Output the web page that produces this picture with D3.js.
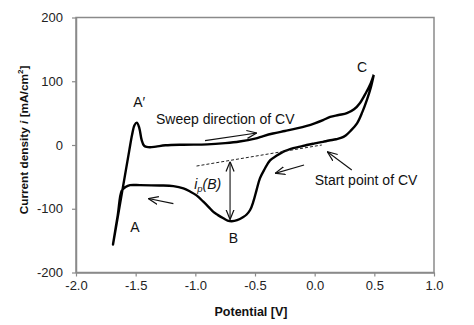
<!DOCTYPE html>
<html><head><meta charset="utf-8">
<script src="https://cdn.jsdelivr.net/npm/d3@7"></script>
<style>
html,body{margin:0;padding:0;background:#fff;}
svg{display:block;font-family:"Liberation Sans",Arial,sans-serif;}
</style></head>
<body>
<script>
// ---- data ----
const xTicks = [-2.0, -1.5, -1.0, -0.5, 0.0, 0.5, 1.0];
const yTicks = [-200, -100, 0, 100, 200];
// cathodic sweep: from C back through B and A to the vertex
const sweepNegative = [
  [0.495,110],[0.47,90],[0.44,72],[0.40,52],[0.355,34],[0.30,22],[0.26,15],[0.22,11],[0.18,9],[0.12,7],
  [0.07,5],[0.0,2.5],[-0.066,0],[-0.122,-2.6],[-0.2,-6],[-0.262,-10.5],[-0.32,-17],[-0.374,-24],[-0.42,-38],
  [-0.458,-52],[-0.486,-70],[-0.514,-89],[-0.541,-102],[-0.57,-109],[-0.598,-113],[-0.65,-118],[-0.695,-119.5],
  [-0.73,-118.5],[-0.765,-115],[-0.81,-110],[-0.849,-105],[-0.89,-97],[-0.933,-89],[-0.99,-79],[-1.044,-73],
  [-1.1,-68],[-1.184,-64.5],[-1.3,-63.5],[-1.464,-63],[-1.547,-63],[-1.585,-66],[-1.617,-72],[-1.65,-110],[-1.69,-156]
];
// anodic sweep: from the vertex up through A' to C
const sweepPositive = [
  [-1.69,-156],[-1.64,-102],[-1.59,-48],[-1.553,-8],[-1.53,16],[-1.51,31],[-1.49,35],[-1.47,27],[-1.45,8],
  [-1.43,-1],[-1.408,-3],[-1.38,-3.5],[-1.33,-2.5],[-1.25,-0.5],[-1.1,0.5],[-0.9,1],[-0.75,3],[-0.63,5.5],[-0.5,10],
  [-0.43,14],[-0.35,18],[-0.25,22],[-0.15,26],[-0.066,30],[0.0,34],[0.07,39],[0.13,44],[0.2,47],[0.27,50],
  [0.33,56],[0.38,66],[0.43,82],[0.47,97],[0.495,110]
];
const baseline = [[-0.99,-33],[0.06,0]];
const peakArrow = [[-0.709,-26],[-0.709,-117]];
const arrows = [
  [[-0.919,6.8],[-0.485,18.9]],
  [[-1.184,-92],[-1.394,-84]],
  [[-0.089,-31.4],[-0.332,-44.5]],
  [[0.311,-39.3],[0.106,-10.5]]
];
const labels = [
  {t:"A\u2032", v:-1.52, i:59},
  {t:"A", v:-1.545, i:-136},
  {t:"B", v:-0.72, i:-153},
  {t:"C", v:0.355, i:115},
  {t:"Sweep direction of CV", v:-1.33, i:33},
  {t:"Start point of CV", v:0.0, i:-62}
];

// ---- layout ----
const W = 474, H = 325;
const m = {left:76, right:40, top:17.5, bottom:52.5};
const x = d3.scaleLinear().domain([-2,1]).range([m.left, W-m.right]);
const y = d3.scaleLinear().domain([-200,200]).range([H-m.bottom, m.top]);

const svg = d3.select("body").append("svg").attr("width",W).attr("height",H);
const defs = svg.append("defs");
defs.append("marker").attr("id","ah").attr("viewBox","0 0 10 10").attr("refX",10).attr("refY",5)
  .attr("markerWidth",10).attr("markerHeight",10).attr("markerUnits","userSpaceOnUse")
  .attr("orient","auto-start-reverse")
  .append("path").attr("d","M0,1 L10,5 L0,9").attr("fill","none").attr("stroke","#111").attr("stroke-width",1.2);

const axisColor = "#8a8a8a";
// frame
svg.append("rect").attr("x",x(-2)).attr("y",y(200)).attr("width",x(1)-x(-2)).attr("height",y(-200)-y(200))
  .attr("fill","none").attr("stroke",axisColor).attr("stroke-width",1.5);

const gx = svg.append("g").attr("transform",`translate(0,${y(-200)})`)
  .call(d3.axisBottom(x).tickValues(xTicks).tickFormat(d3.format(".1f")).tickSize(4).tickSizeOuter(0));
const gy = svg.append("g").attr("transform",`translate(${x(-2)},0)`)
  .call(d3.axisLeft(y).tickValues(yTicks).tickFormat(d=>d).tickSize(4).tickSizeOuter(0));
[gx,gy].forEach(g=>{
  g.select(".domain").attr("stroke",axisColor).attr("stroke-width",1.5);
  g.selectAll(".tick line").attr("stroke",axisColor).attr("stroke-width",1.2);
  g.selectAll(".tick text").attr("fill","#222").style("font-size","13px").style("font-family","'Liberation Sans',Arial,sans-serif");
});
gx.selectAll(".tick text").attr("dy","1.05em").attr("y",4);
gy.selectAll(".tick text").attr("x",-13);
gx.selectAll(".tick text").text(d=> d<0 ? "-"+d3.format(".1f")(-d) : d3.format(".1f")(d));
gy.selectAll(".tick text").text(d=> d<0 ? "-"+(-d) : d);

// axis titles
svg.append("text").attr("x",(x(-2)+x(1))/2 - 4).attr("y",316).attr("text-anchor","middle")
  .attr("font-weight","bold").attr("font-size",12.5).attr("fill","#111").text("Potential [V]");
const yl = svg.append("text").attr("transform",`translate(28,140) rotate(-90)`).attr("text-anchor","middle")
  .attr("font-weight","bold").attr("font-size",11.8).attr("fill","#111");
yl.append("tspan").text("Current density ");
yl.append("tspan").attr("font-style","italic").text("i");
yl.append("tspan").text(" [mA/cm");
yl.append("tspan").attr("font-size",8).attr("dy",-5).text("2");
yl.append("tspan").attr("dy",5).text("]");

// CV curve
const line = d3.line().x(d=>x(d[0])).y(d=>y(d[1])).curve(d3.curveCatmullRom.alpha(0.5));
svg.append("path").attr("d",line(sweepNegative.concat(sweepPositive.slice(1))))
  .attr("fill","none").attr("stroke","#000").attr("stroke-width",2.4).attr("stroke-linejoin","round");

// baseline (dashed)
svg.append("path").attr("d",d3.line().x(d=>x(d[0])).y(d=>y(d[1]))(baseline))
  .attr("stroke","#222").attr("stroke-width",1).attr("stroke-dasharray","3,2").attr("fill","none");

// peak current double arrow
svg.append("path").attr("d",d3.line().x(d=>x(d[0])).y(d=>y(d[1]))(peakArrow))
  .attr("stroke","#111").attr("stroke-width",1.1).attr("fill","none")
  .attr("marker-start","url(#ah)").attr("marker-end","url(#ah)");

// sweep arrows
arrows.forEach(a=>{
  svg.append("path").attr("d",d3.line().x(d=>x(d[0])).y(d=>y(d[1]))(a))
    .attr("stroke","#111").attr("stroke-width",1.1).attr("fill","none").attr("marker-end","url(#ah)");
});

// labels
labels.forEach(l=>{
  svg.append("text").attr("x",x(l.v)).attr("y",y(l.i)).attr("font-size",14).attr("fill","#111").text(l.t);
});
// i_p(B)
const ip = svg.append("text").attr("x",x(-1.01)).attr("y",y(-69)).attr("font-size",14).attr("fill","#111").attr("font-style","italic");
ip.append("tspan").text("i");
ip.append("tspan").attr("font-size",9.5).attr("dy",3).text("p");
ip.append("tspan").attr("dy",-3).text("(B)");
</script>
</body></html>
